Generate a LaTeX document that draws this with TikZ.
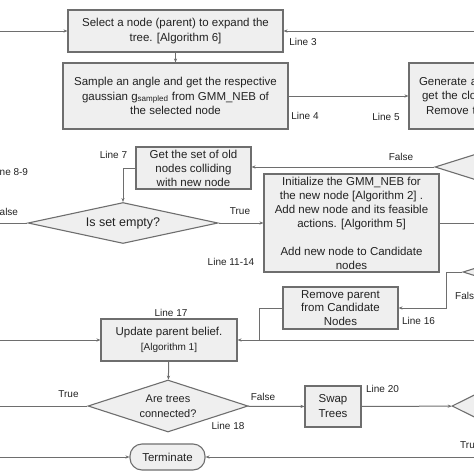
\documentclass[tikz,border=0pt]{standalone}
\usepackage{fontspec}
\setmainfont{Liberation Sans}
\usetikzlibrary{shapes.geometric,arrows.meta}
\definecolor{linegray}{HTML}{6E6E6E}
\definecolor{boxfill}{HTML}{EFEFEF}
\definecolor{txt}{HTML}{222222}

\begin{document}
\begin{tikzpicture}[x=1pt,y=-1pt,
    box/.style={draw=linegray,fill=boxfill,line width=1.1pt,align=center,inner sep=0pt,text=txt,font=\fontsize{11.5}{14.5}\selectfont},
    dia/.style={diamond,draw=linegray,fill=boxfill,line width=1.1pt,align=center,inner sep=0pt,text=txt,font=\fontsize{11.5}{15}\selectfont},
    arr/.style={draw=linegray,line width=1pt,-{Stealth[length=4pt,width=3.2pt]}},
    lnk/.style={draw=linegray,line width=1pt},
    lbl/.style={inner sep=0pt,text=txt,font=\fontsize{10}{12}\selectfont}]
    \useasboundingbox (0,0) rectangle (474,474);
    \clip (0,0) rectangle (474,474);

    % Draw Boxes
    \node[box,minimum width=215pt,minimum height=42pt] (select) at (175.5,31)
        {Select a node (parent) to expand the\\tree. [Algorithm 6]};
    \node[box,minimum width=225pt,minimum height=66pt] (sample) at (175.5,96)
        {Sample an angle and get the respective\\gaussian g\textsubscript{sampled} from GMM\_NEB of\\the selected node};
    \node[box,minimum height=66pt,text width=128pt,inner xsep=10pt,align=left] (generate) at (483,96)
        {Generate a\\\hspace*{3pt}get the clo\\\hspace*{7pt}Remove t\\[2pt]};
    \node[box,minimum width=115pt,minimum height=42pt,font=\fontsize{11.5}{14}\selectfont] (oldnodes) at (193.5,168)
        {Get the set of old\\nodes colliding\\with new node};
    \node[box,minimum width=175pt,minimum height=98pt,font=\fontsize{11.5}{14}\selectfont] (init) at (351.5,223)
        {Initialize the GMM\_NEB for\\the new node [Algorithm 2] .\\Add new node and its feasible\\actions. [Algorithm 5]\\[14pt]Add new node to Candidate\\nodes};
    \node[box,minimum width=115pt,minimum height=42pt,font=\fontsize{11.5}{13.5}\selectfont] (remove) at (340.5,308)
        {Remove parent\\from Candidate\\Nodes};
    \node[box,minimum width=136pt,minimum height=42pt] (update) at (169,340)
        {Update parent belief.\\{\fontsize{10}{12}\selectfont[Algorithm 1]}};
    \node[box,minimum width=56pt,minimum height=41pt,font=\fontsize{11.5}{15}\selectfont] (swap) at (333,406.5)
        {Swap\\Trees};
    \node[box,rounded corners=12pt,minimum width=75pt,minimum height=26pt] (terminate) at (167.5,457)
        {Terminate};

    % Draw Decisions
    \node[dia,aspect=4.63,minimum width=190pt,minimum height=41pt,font=\fontsize{12.5}{15}\selectfont] (setempty) at (123,223) {Is set empty?};
    \node[dia,aspect=3.08,minimum width=160pt,minimum height=52pt,font=\fontsize{11}{15}\selectfont] (connected) at (168,406) {Are trees\\connected?};
    \node[dia,aspect=3.16,minimum width=120pt,minimum height=38pt] (checkA) at (495,167) {};
    \node[dia,aspect=3.16,minimum width=120pt,minimum height=38pt] (checkB) at (523,272) {};
    \node[dia,aspect=2,minimum width=100pt,minimum height=50pt] (checkC) at (502,406) {};

    % Free ends
    \coordinate (inTop) at (0,31);
    \coordinate (inRight) at (474,31);
    \coordinate (outFalse) at (0,223);
    \coordinate (outInit) at (474,223);
    \coordinate (join) at (259,340);
    \coordinate (inUpdateR) at (474,340);
    \coordinate (inUpdateL) at (0,340);
    \coordinate (outTrue) at (0,406);
    \coordinate (inTermL) at (0,457);
    \coordinate (inTermR) at (474,457);

    % Draw Connectors
    \draw[arr] (inTop) -- (select);
    \draw[arr] (inRight) -- (select.east);
    \draw[arr] (select) -- (sample);
    \draw[arr] (sample) -- (generate);
    \draw[arr] (checkA) -- (oldnodes.east |- checkA);
    \draw[arr] (oldnodes.west) -| (setempty.north);
    \draw[lnk] (setempty) -- (outFalse);
    \draw[arr] (setempty) -- (init);
    \draw[lnk] (init) -- (outInit);
    \draw[arr] (checkB.west) -- ++(-16,0) |- (remove.east);
    \draw[lnk] (remove.west) -| (join);
    \draw[arr] (inUpdateR) -- (update.east);
    \draw[arr] (inUpdateL) -- (update.west);
    \draw[arr] (update) -- (connected);
    \draw[lnk] (connected) -- (outTrue);
    \draw[arr] (connected) -- (swap);
    \draw[arr] (swap) -- (checkC);
    \draw[arr] (inTermL) -- (terminate);
    \draw[arr] (inTermR) -- (terminate);

    % Line Labels
    \node[lbl] (l3) at (303,42) {Line 3};
    \node[lbl] (l4) at (305,116) {Line 4};
    \node[lbl] (l5) at (386,117) {Line 5};
    \node[lbl] (l7) at (113.5,155) {Line 7};
    \node[lbl,anchor=west] (l89) at (-0.5,172) {ne 8-9};
    \node[lbl] (l1114) at (231,262) {Line 11-14};
    \node[lbl] (l16) at (418.5,321) {Line 16};
    \node[lbl] (l17) at (171,313) {Line 17};
    \node[lbl] (l18) at (228,426) {Line 18};
    \node[lbl] (l20) at (382.5,389) {Line 20};

    % -- branch labels
    \node[lbl] (fA) at (401,157) {False};
    \node[lbl,anchor=west] (fB) at (-0.5,212) {alse};
    \node[lbl] (tB) at (240,211) {True};
    \node[lbl,anchor=west] (fC) at (455,296) {Fals};
    \node[lbl] (tD) at (68.5,394) {True};
    \node[lbl] (fD) at (263,397) {False};
    \node[lbl,anchor=west] (tE) at (460,445) {Tru};
\end{tikzpicture}
\end{document}
